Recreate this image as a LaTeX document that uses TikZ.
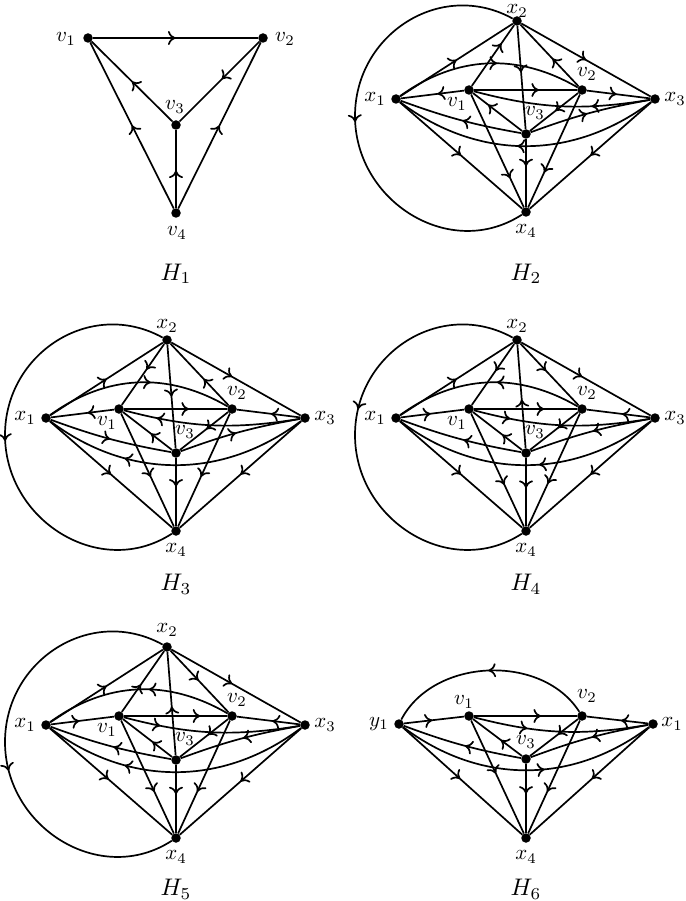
\documentclass[tikz,border=0pt]{standalone}
\usepackage{graphicx}
\usetikzlibrary{decorations.markings,arrows.meta}
\newcommand\lbl[1]{\scalebox{2.1}{$#1$}}
\newcommand\captn[1]{\scalebox{2.4}{$#1$}}
\tikzset{
  dot/.style={circle,fill=black,inner sep=0pt,minimum size=9.5pt},
  lab/.style={inner sep=0pt},
  captxt/.style={inner sep=0pt},
  ed/.style={line width=1.7pt},
  fw/.style={postaction={decorate,decoration={markings,mark=at position #1 with {\arrow{Computer Modern Rightarrow[length=7.5pt,width=14pt]}}}}},
  bw/.style={postaction={decorate,decoration={markings,mark=at position #1 with {\arrowreversed{Computer Modern Rightarrow[length=7.5pt,width=14pt]}}}}},
}
\newcommand\stdnodes[2]{%
  \node[dot] (#1x4) at (0,0) {};
  \node[dot] (#1x2) at (-9,191) {};
  \node[dot] (#1x1) at (-130,113) {};
  \node[dot] (#1x3) at (129,113) {};
  \node[dot] (#1v1) at (-57,122) {};
  \node[dot] (#1v2) at (56,122) {};
  \node[dot] (#1v3) at (0,78) {};
  \coordinate (#1L) at (-171,96);
  \node[lab] (#1lx2) at (-9,#2) {\lbl{x_2}};
  \node[lab] (#1lx1) at (-151,113) {\lbl{x_1}};
  \node[lab] (#1lx3) at (149,113) {\lbl{x_3}};
  \node[lab] (#1lx4) at (0,-19) {\lbl{x_4}};
  \node[lab] (#1lv1) at (-69,108) {\lbl{v_1}};
  \node[lab] (#1lv2) at (61,138) {\lbl{v_2}};
  \node[lab] (#1lv3) at (9,99) {\lbl{v_3}};
}
\newcommand\stdedges[1]{%
  \draw[ed,E1] (#1x1) -- (#1x2);
  \draw[ed,E2] (#1x2) -- (#1x3);
  \draw[ed,E3] (#1x1) -- (#1x4);
  \draw[ed,E4] (#1x3) -- (#1x4);
  \draw[ed,E5] (#1v1) -- (#1x2);
  \draw[ed,E6] (#1v2) -- (#1x2);
  \draw[ed,E7] (#1x2) -- (#1v3);
  \draw[ed,E8] (#1v1) -- (#1v2);
  \draw[ed,E9] (#1x1) -- (#1v1);
  \draw[ed,E10] (#1v2) -- (#1x3);
  \draw[ed,E11] (#1v1) -- (#1v3);
  \draw[ed,E12] (#1v2) -- (#1v3);
  \draw[ed,E13] (#1v1) -- (#1x4);
  \draw[ed,E14] (#1v2) -- (#1x4);
  \draw[ed,E15] (#1v3) -- (#1x4);
  \draw[ed,E16] (#1x1) to[bend left=33] (#1v2);
  \draw[ed,E17] (#1v1) to[bend right=12] (#1x3);
  \draw[ed,E18] (#1x1) to[bend right=5] (#1v3);
  \draw[ed,E19] (#1v3) to[bend left=5] (#1x3);
  \draw[ed,E20] (#1x1) to[bend right=37] (#1x3);
  \draw[ed,E21] (#1x2) to[out=151,in=90,looseness=1.13] (#1L) to[out=270,in=213,looseness=1.13] (#1x4);
}
\begin{document}
\begin{tikzpicture}[x=1pt,y=1pt]
\useasboundingbox (0,0) rectangle (685,-901);
% ---------- H1
\node[dot] (av1) at (88,-38) {};
\node[dot] (av2) at (263,-38) {};
\node[dot] (av3) at (176,-125) {};
\node[dot] (av4) at (176,-213) {};
\node[lab] (alv1) at (66,-39) {\lbl{v_1}};
\node[lab] (alv2) at (285,-39) {\lbl{v_2}};
\node[lab] (alv3) at (175,-107) {\lbl{v_3}};
\node[lab] (alv4) at (177,-233) {\lbl{v_4}};
\draw[ed,fw=.5] (av1) -- (av2);
\draw[ed,fw=.47] (av2) -- (av3);
\draw[ed,fw=.5] (av3) -- (av1);
\draw[ed,fw=.5] (av4) -- (av1);
\draw[ed,fw=.48] (av4) -- (av3);
\draw[ed,fw=.5] (av4) -- (av2);
\node[captxt] (acap) at (176,-274) {\captn{H_1}};
% ---------- H2
\begin{scope}[shift={(526,-212)}]
\tikzset{E1/.style={fw=.5},E2/.style={fw=.5},E3/.style={fw=.5},E4/.style={fw=.5},
E5/.style={fw=.7},E6/.style={fw=.45},E7/.style={fw=.45},E8/.style={fw=.63},
E9/.style={bw=.58},E10/.style={fw=.47},E11/.style={bw=.31},E12/.style={fw=.47},
E13/.style={fw=.74},E14/.style={fw=.69},E15/.style={fw=.4},E16/.style={fw=.55},
E17/.style={bw=.67},E18/.style={bw=.52},E19/.style={fw=.48},E20/.style={bw=.47},E21/.style={fw=.5}}
\stdnodes{b}{201}
\stdedges{b}
\node[captxt] (bcap) at (0,-62) {\captn{H_2}};
\end{scope}
% ---------- H3
\begin{scope}[shift={(176,-531)}]
\tikzset{E1/.style={fw=.5},E2/.style={fw=.47},E3/.style={fw=.5},E4/.style={fw=.5},
E5/.style={bw=.58},E6/.style={fw=.43},E7/.style={fw=.5},E8/.style={fw=.63},
E9/.style={bw=.58},E10/.style={bw=.54},E11/.style={bw=.57},E12/.style={fw=.45},
E13/.style={fw=.56},E14/.style={fw=.56},E15/.style={fw=.42},E16/.style={fw=.57},
E17/.style={bw=.19},E18/.style={fw=.5},E19/.style={fw=.47},E20/.style={bw=.31},E21/.style={fw=.5}}
\stdnodes{c}{205}
\stdedges{c}
\node[captxt] (ccap) at (0,-53) {\captn{H_3}};
\end{scope}
% ---------- H4
\begin{scope}[shift={(526,-531)}]
\tikzset{E1/.style={fw=.5},E2/.style={fw=.47},E3/.style={fw=.5},E4/.style={fw=.5},
E5/.style={bw=.56},E6/.style={bw=.56},E7/.style={bw=.53},E8/.style={fw=.68},
E9/.style={fw=.47},E10/.style={bw=.56},E11/.style={bw=.6},E12/.style={fw=.42},
E13/.style={fw=.63},E14/.style={fw=.62},E15/.style={fw=.44},E16/.style={bw=.55},
E17/.style={fw=.21},E18/.style={bw=.53},E19/.style={bw=.53},E20/.style={bw=.55},E21/.style={fw=.43}}
\stdnodes{d}{205}
\stdedges{d}
\node[captxt] (dcap) at (0,-53) {\captn{H_4}};
\end{scope}
% ---------- H5
\begin{scope}[shift={(176,-838)}]
\tikzset{E1/.style={fw=.5},E2/.style={fw=.47},E3/.style={fw=.48},E4/.style={fw=.5},
E5/.style={fw=.45},E6/.style={bw=.52},E7/.style={bw=.53},E8/.style={fw=.74},
E9/.style={fw=.45},E10/.style={bw=.56},E11/.style={bw=.6},E12/.style={fw=.42},
E13/.style={fw=.63},E14/.style={fw=.63},E15/.style={fw=.43},E16/.style={bw=.56},
E17/.style={fw=.21},E18/.style={bw=.53},E19/.style={bw=.53},E20/.style={bw=.31},E21/.style={fw=.55}}
\stdnodes{e}{208}
\stdedges{e}
\node[captxt] (ecap) at (0,-51) {\captn{H_5}};
\end{scope}
% ---------- H6
\begin{scope}[shift={(526,-838)}]
\node[dot] (fx4) at (0,0) {};
\node[dot] (fy1) at (-127,114) {};
\node[dot] (fx1) at (127,114) {};
\node[dot] (fv1) at (-57,122) {};
\node[dot] (fv2) at (56,122) {};
\node[dot] (fv3) at (0,79) {};
\node[lab] (fly1) at (-147,114) {\lbl{y_1}};
\node[lab] (flx1) at (146,114) {\lbl{x_1}};
\node[lab] (flx4) at (0,-19) {\lbl{x_4}};
\node[lab] (flv1) at (-62,136) {\lbl{v_1}};
\node[lab] (flv2) at (61,142) {\lbl{v_2}};
\node[lab] (flv3) at (0,96) {\lbl{v_3}};
\draw[ed,fw=.47] (fy1) -- (fv1);
\draw[ed,bw=.5] (fy1) to[bend left=60] (fv2);
\draw[ed,bw=.53] (fy1) to[bend right=5] (fv3);
\draw[ed,fw=.48] (fy1) -- (fx4);
\draw[ed,fw=.57] (fy1) to[bend right=37] (fx1);
\draw[ed,fw=.65] (fv1) -- (fv2);
\draw[ed,bw=.57] (fv1) -- (fv3);
\draw[ed,fw=.47] (fv1) -- (fx4);
\draw[ed,fw=.31] (fv1) to[bend right=12] (fx1);
\draw[ed,fw=.42] (fv2) -- (fv3);
\draw[ed,fw=.63] (fv2) -- (fx4);
\draw[ed,bw=.56] (fv2) -- (fx1);
\draw[ed,fw=.43] (fv3) -- (fx4);
\draw[ed,bw=.53] (fv3) to[bend left=5] (fx1);
\draw[ed,fw=.48] (fx1) -- (fx4);
\node[captxt] (fcap) at (0,-51) {\captn{H_6}};
\end{scope}
\end{tikzpicture}
\end{document}
